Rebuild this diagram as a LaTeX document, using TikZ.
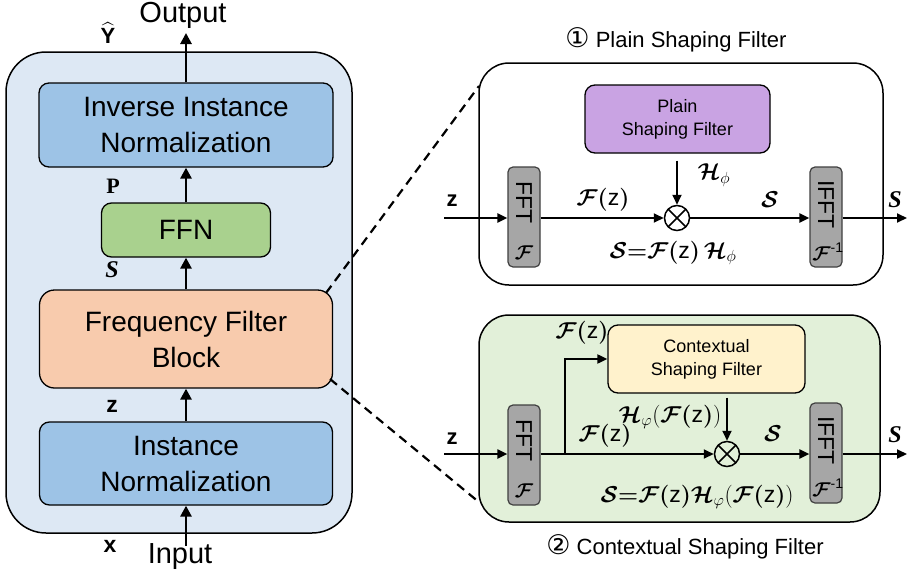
\RequirePackage{fix-cm}
\documentclass[tikz,border=0pt]{standalone}
\usepackage{amsmath,bm}
\usepackage[no-math]{fontspec}
\setmainfont{Liberation Sans}
\setsansfont{Liberation Sans}
\newfontfamily\serifface{Liberation Serif}
\newfontfamily\symface{DejaVu Sans}
\usetikzlibrary{arrows.meta,calc}
\definecolor{outerblue}{HTML}{DDE8F4}
\definecolor{boxblue}{HTML}{9DC3E6}
\definecolor{ffngreen}{HTML}{A9D18E}
\definecolor{ffbsalmon}{HTML}{F8CBAD}
\definecolor{plainpurple}{HTML}{C9A3E3}
\definecolor{ctxyellow}{HTML}{FFF2CC}
\definecolor{lightgreen}{HTML}{E2F0D9}
\definecolor{fftgray}{HTML}{A6A6A6}
\newcommand\MyF{\bm{\mathcal{F}}}
\newcommand\MyS{\bm{\mathcal{S}}}
\newcommand\MyH{\bm{\mathcal{H}}}
\newcommand\MyFz{\MyF\bm{(}\text{z}\bm{)}}
\newcommand\MyEq{\mathord{\bm{=}}}
\begin{document}
\begin{tikzpicture}[x=1pt,y=-1pt,
  blk/.style={draw=black, line width=1.3pt, rounded corners=10pt, align=center, inner sep=0pt},
  bigtxt/.style={font=\fontsize{28}{36}\selectfont},
  midtxt/.style={font=\fontsize{18}{23}\selectfont},
  fftbox/.style={draw=black!75, fill=fftgray, line width=1.2pt, rounded corners=5pt, minimum width=32pt, minimum height=100pt, inner sep=0pt},
  ffttxt/.style={rotate=-90, font=\fontsize{23}{24}\selectfont, inner sep=0pt},
  mlbl/.style={font=\fontsize{23}{26}\selectfont, inner sep=0pt},
  flbl/.style={font=\fontsize{20}{24}\selectfont, inner sep=0pt},
  arr/.style={line width=2.8pt, -{Triangle[length=11pt,width=11pt]}},
  arrs/.style={line width=2pt, -{Triangle[length=10pt,width=9pt]}},
  otim/.style={circle, draw, line width=1.5pt, minimum size=25pt, inner sep=0pt,
    path picture={\draw[line width=1.5pt] (path picture bounding box.north west) -- (path picture bounding box.south east) (path picture bounding box.north east) -- (path picture bounding box.south west);}},
  dsh/.style={line width=2.2pt, dash pattern=on 9pt off 6pt}
]
\useasboundingbox (0,0) rectangle (908,576);

% ---------------- left column ----------------
\node[draw=black, line width=1.5pt, fill=outerblue, rounded corners=40pt, minimum width=346pt, minimum height=481pt] (outer) at (179,292.5) {};
\node[blk, fill=boxblue, minimum width=294pt, minimum height=84pt, bigtxt] (iin) at (186,125) {Inverse Instance\\Normalization};
\node[blk, fill=ffngreen, minimum width=169pt, minimum height=54pt, bigtxt] (ffn) at (186,230) {FFN};
\node[blk, fill=ffbsalmon, rounded corners=15pt, minimum width=293pt, minimum height=98pt, bigtxt] (ffb) at (186,339) {Frequency Filter\\Block};
\node[blk, fill=boxblue, minimum width=293pt, minimum height=83pt, bigtxt] (inn) at (186,463.5) {Instance\\Normalization};

\node[font=\fontsize{29}{30}\selectfont, inner sep=0pt] (outtxt) at (183,15) {Output};
\node[font=\fontsize{29}{30}\selectfont, inner sep=0pt] (intxt) at (180,557) {Input};
\coordinate (otip) at (186,33);
\coordinate (ibase) at (186,546);
\draw[arr] (iin.north) -- (otip);
\draw[arr] (ffn.north) -- (iin.south);
\draw[arr] (ffb.north) -- (ffn.south);
\draw[arr] (inn.north) -- (ffb.south);
\draw[arr] (ibase) -- (inn.south);

\node[font=\fontsize{22}{24}\selectfont\bfseries, inner sep=0pt] (yhat) at (108,33) {$\widehat{\text{\textbf{Y}}}$};
\node[font=\fontsize{22}{24}\selectfont\serifface\bfseries, inner sep=0pt] (plbl) at (113,186) {P};
\node[font=\fontsize{24}{24}\selectfont\serifface\bfseries\itshape, inner sep=0pt] (slbl) at (112,270) {S};
\node[font=\fontsize{23}{24}\selectfont\bfseries, inner sep=0pt] (zlbl) at (112,406) {z};
\node[font=\fontsize{23}{24}\selectfont\bfseries, inner sep=0pt] (xlbl) at (110,546) {x};

% ---------------- upper right: plain ----------------
\node[draw=black, line width=1.5pt, fill=white, rounded corners=30pt, minimum width=404pt, minimum height=222pt] (box1) at (681,174) {};
\node[font=\fontsize{22}{24}\selectfont, inner sep=0pt] (title1) at (676,40) {{\symface\fontsize{27}{27}\selectfont ①}\ Plain Shaping Filter};
\node[blk, fill=plainpurple, minimum width=185pt, minimum height=68pt, midtxt] (plain) at (677.5,119) {Plain\\Shaping Filter};
\node[fftbox] (fft1) at (524,217) {};
\node[ffttxt] (fft1t) at ($(fft1.north)+(0,36)$) {FFT};
\node[flbl] (fft1f) at ($(fft1.north)+(0,86)$) {$\MyF$};
\node[fftbox] (ifft1) at (826,217) {};
\node[ffttxt] (ifft1t) at ($(ifft1.north)+(0,38)$) {IFFT};
\node[flbl] (ifft1f) at ($(ifft1.north)+(2,85)$) {$\MyF^{\text{-1}}$};
\node[otim] (ot1) at (677,218) {};
\coordinate (zin1) at (444,218);
\coordinate (sout1) at (907,218);
\draw[arrs] (zin1) -- (fft1.west |- zin1);
\draw[arrs] (fft1.east |- ot1) -- (ot1.west);
\draw[arrs, shorten <=7pt] (plain.south -| ot1) -- (ot1.north);
\draw[arrs] (ot1.east) -- (ifft1.west |- ot1);
\draw[arrs] (ifft1.east |- ot1) -- (sout1);
\node[font=\fontsize{22}{24}\selectfont\bfseries, inner sep=0pt] (z1) at (452,201) {z};
\node[mlbl] (fz1) at (603,200) {$\MyFz$};
\node[mlbl] (h1) at (714,175) {$\MyH_{\phi}$};
\node[mlbl] (s1) at (770,200) {$\MyS$};
\node[font=\fontsize{24}{24}\selectfont\serifface\bfseries\itshape, inner sep=0pt] (so1) at (895,200) {S};
\node[mlbl] (eq1) at (673,253) {$\MyS\MyEq\MyFz\,\MyH_{\phi}$};

% ---------------- lower right: contextual ----------------
\node[draw=black, line width=1.5pt, fill=lightgreen, rounded corners=30pt, minimum width=401pt, minimum height=207pt] (box2) at (679.5,418.5) {};
\node[font=\fontsize{22}{24}\selectfont, inner sep=0pt] (title2) at (685,547) {{\symface\fontsize{27}{27}\selectfont ②}\ Contextual Shaping Filter};
\node[blk, fill=ctxyellow, minimum width=197pt, minimum height=68pt, midtxt] (ctx) at (706.5,359) {Contextual\\Shaping Filter};
\node[fftbox] (fft2) at (524,455) {};
\node[ffttxt] (fft2t) at ($(fft2.north)+(0,36)$) {FFT};
\node[flbl] (fft2f) at ($(fft2.north)+(0,86)$) {$\MyF$};
\node[fftbox] (ifft2) at (826,453) {};
\node[ffttxt] (ifft2t) at ($(ifft2.north)+(0,38)$) {IFFT};
\node[flbl] (ifft2f) at ($(ifft2.north)+(2,85)$) {$\MyF^{\text{-1}}$};
\node[otim] (ot2) at (727,454) {};
\coordinate (zin2) at (444,454);
\coordinate (sout2) at (907,454);
\coordinate (br) at (565,454);
\draw[arrs] (zin2) -- (fft2.west |- zin2);
\draw[arrs] (fft2.east |- ot2) -- (ot2.west);
\draw[line width=2pt, -{Triangle[length=10pt,width=9pt]}] (br) |- (ctx.west);
\draw[arrs, shorten <=4pt] (ctx.south -| ot2) -- (ot2.north);
\draw[arrs] (ot2.east) -- (ifft2.west |- ot2);
\draw[arrs] (ifft2.east |- ot2) -- (sout2);
\node[font=\fontsize{22}{24}\selectfont\bfseries, inner sep=0pt] (z2) at (452,439) {z};
\node[mlbl] (fz2a) at (582,333) {$\MyFz$};
\node[mlbl] (fz2b) at (605,436) {$\MyFz$};
\node[mlbl] (h2) at (670,417) {$\MyH_{\varphi}(\MyFz)$};
\node[mlbl] (s2) at (773,434) {$\MyS$};
\node[font=\fontsize{24}{24}\selectfont\serifface\bfseries\itshape, inner sep=0pt] (so2) at (895,435) {S};
\node[mlbl] (eq2) at (697,497) {$\MyS\MyEq\MyFz\MyH_{\varphi}(\MyFz)$};

% ---------------- dashed zoom lines ----------------
\coordinate (da1) at (326,293);
\coordinate (db1) at (479,86);
\coordinate (da2) at (330,379);
\coordinate (db2) at (480,503);
\draw[dsh] (da1) -- (db1);
\draw[dsh] (da2) -- (db2);
\end{tikzpicture}
\end{document}
